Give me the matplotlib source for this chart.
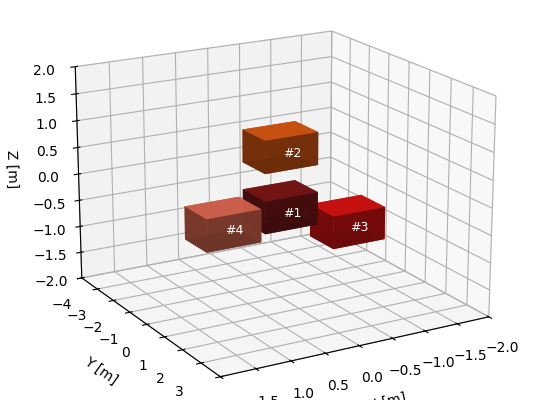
import matplotlib
matplotlib.use('Agg')
import matplotlib.pyplot as plt

# box centres [m] and sizes
labels = ['#1', '#2', '#3', '#4']
cx = [0.0, 0.0, -0.8, 1.0]
cy = [0.0, 0.0, 0.8, 0.5]
cz = [-0.3, 0.8, -0.6, -0.3]
dx = [0.8, 0.8, 0.8, 0.8]
dy = [1.2, 1.2, 1.2, 1.2]
dz = [0.6, 0.6, 0.6, 0.6]
colors = ['#7a1414', '#d4540f', '#d41010', '#d8644e']

fig = plt.figure(figsize=(5.5, 4), dpi=100)
ax = fig.add_subplot(111, projection='3d')
for i in range(len(labels)):
    ax.bar3d(cx[i] - dx[i] / 2, cy[i] - dy[i] / 2, cz[i] - dz[i] / 2,
             dx[i], dy[i], dz[i], color=colors[i], alpha=0.9, shade=True,
             lightsource=matplotlib.colors.LightSource(azdeg=225, altdeg=60))
    ax.text(cx[i], cy[i] + dy[i] / 2, cz[i], labels[i], color='white',
            ha='center', va='center', fontsize=9, zorder=10)

ax.set_xlim(-2, 2)
ax.set_ylim(-4, 4)
ax.set_zlim(-2, 2)
ax.set_xticks([-2, -1.5, -1, -0.5, 0, 0.5, 1, 1.5, 2])
ax.set_yticks(range(-4, 5))
ax.set_zticks([-2, -1.5, -1, -0.5, 0, 0.5, 1, 1.5, 2])
ax.set_xlabel('X [m]')
ax.set_ylabel('Y [m]')
ax.set_zlabel('Z [m]')
for a in (ax.xaxis, ax.yaxis, ax.zaxis):
    a._axinfo['grid']['color'] = '#b0b0b0'
ax.view_init(elev=18, azim=60)
ax.set_box_aspect(None, zoom=1.2)
fig.subplots_adjust(left=0.02, right=0.98, bottom=0.02, top=1)
fig.savefig('out.png', dpi=100)
